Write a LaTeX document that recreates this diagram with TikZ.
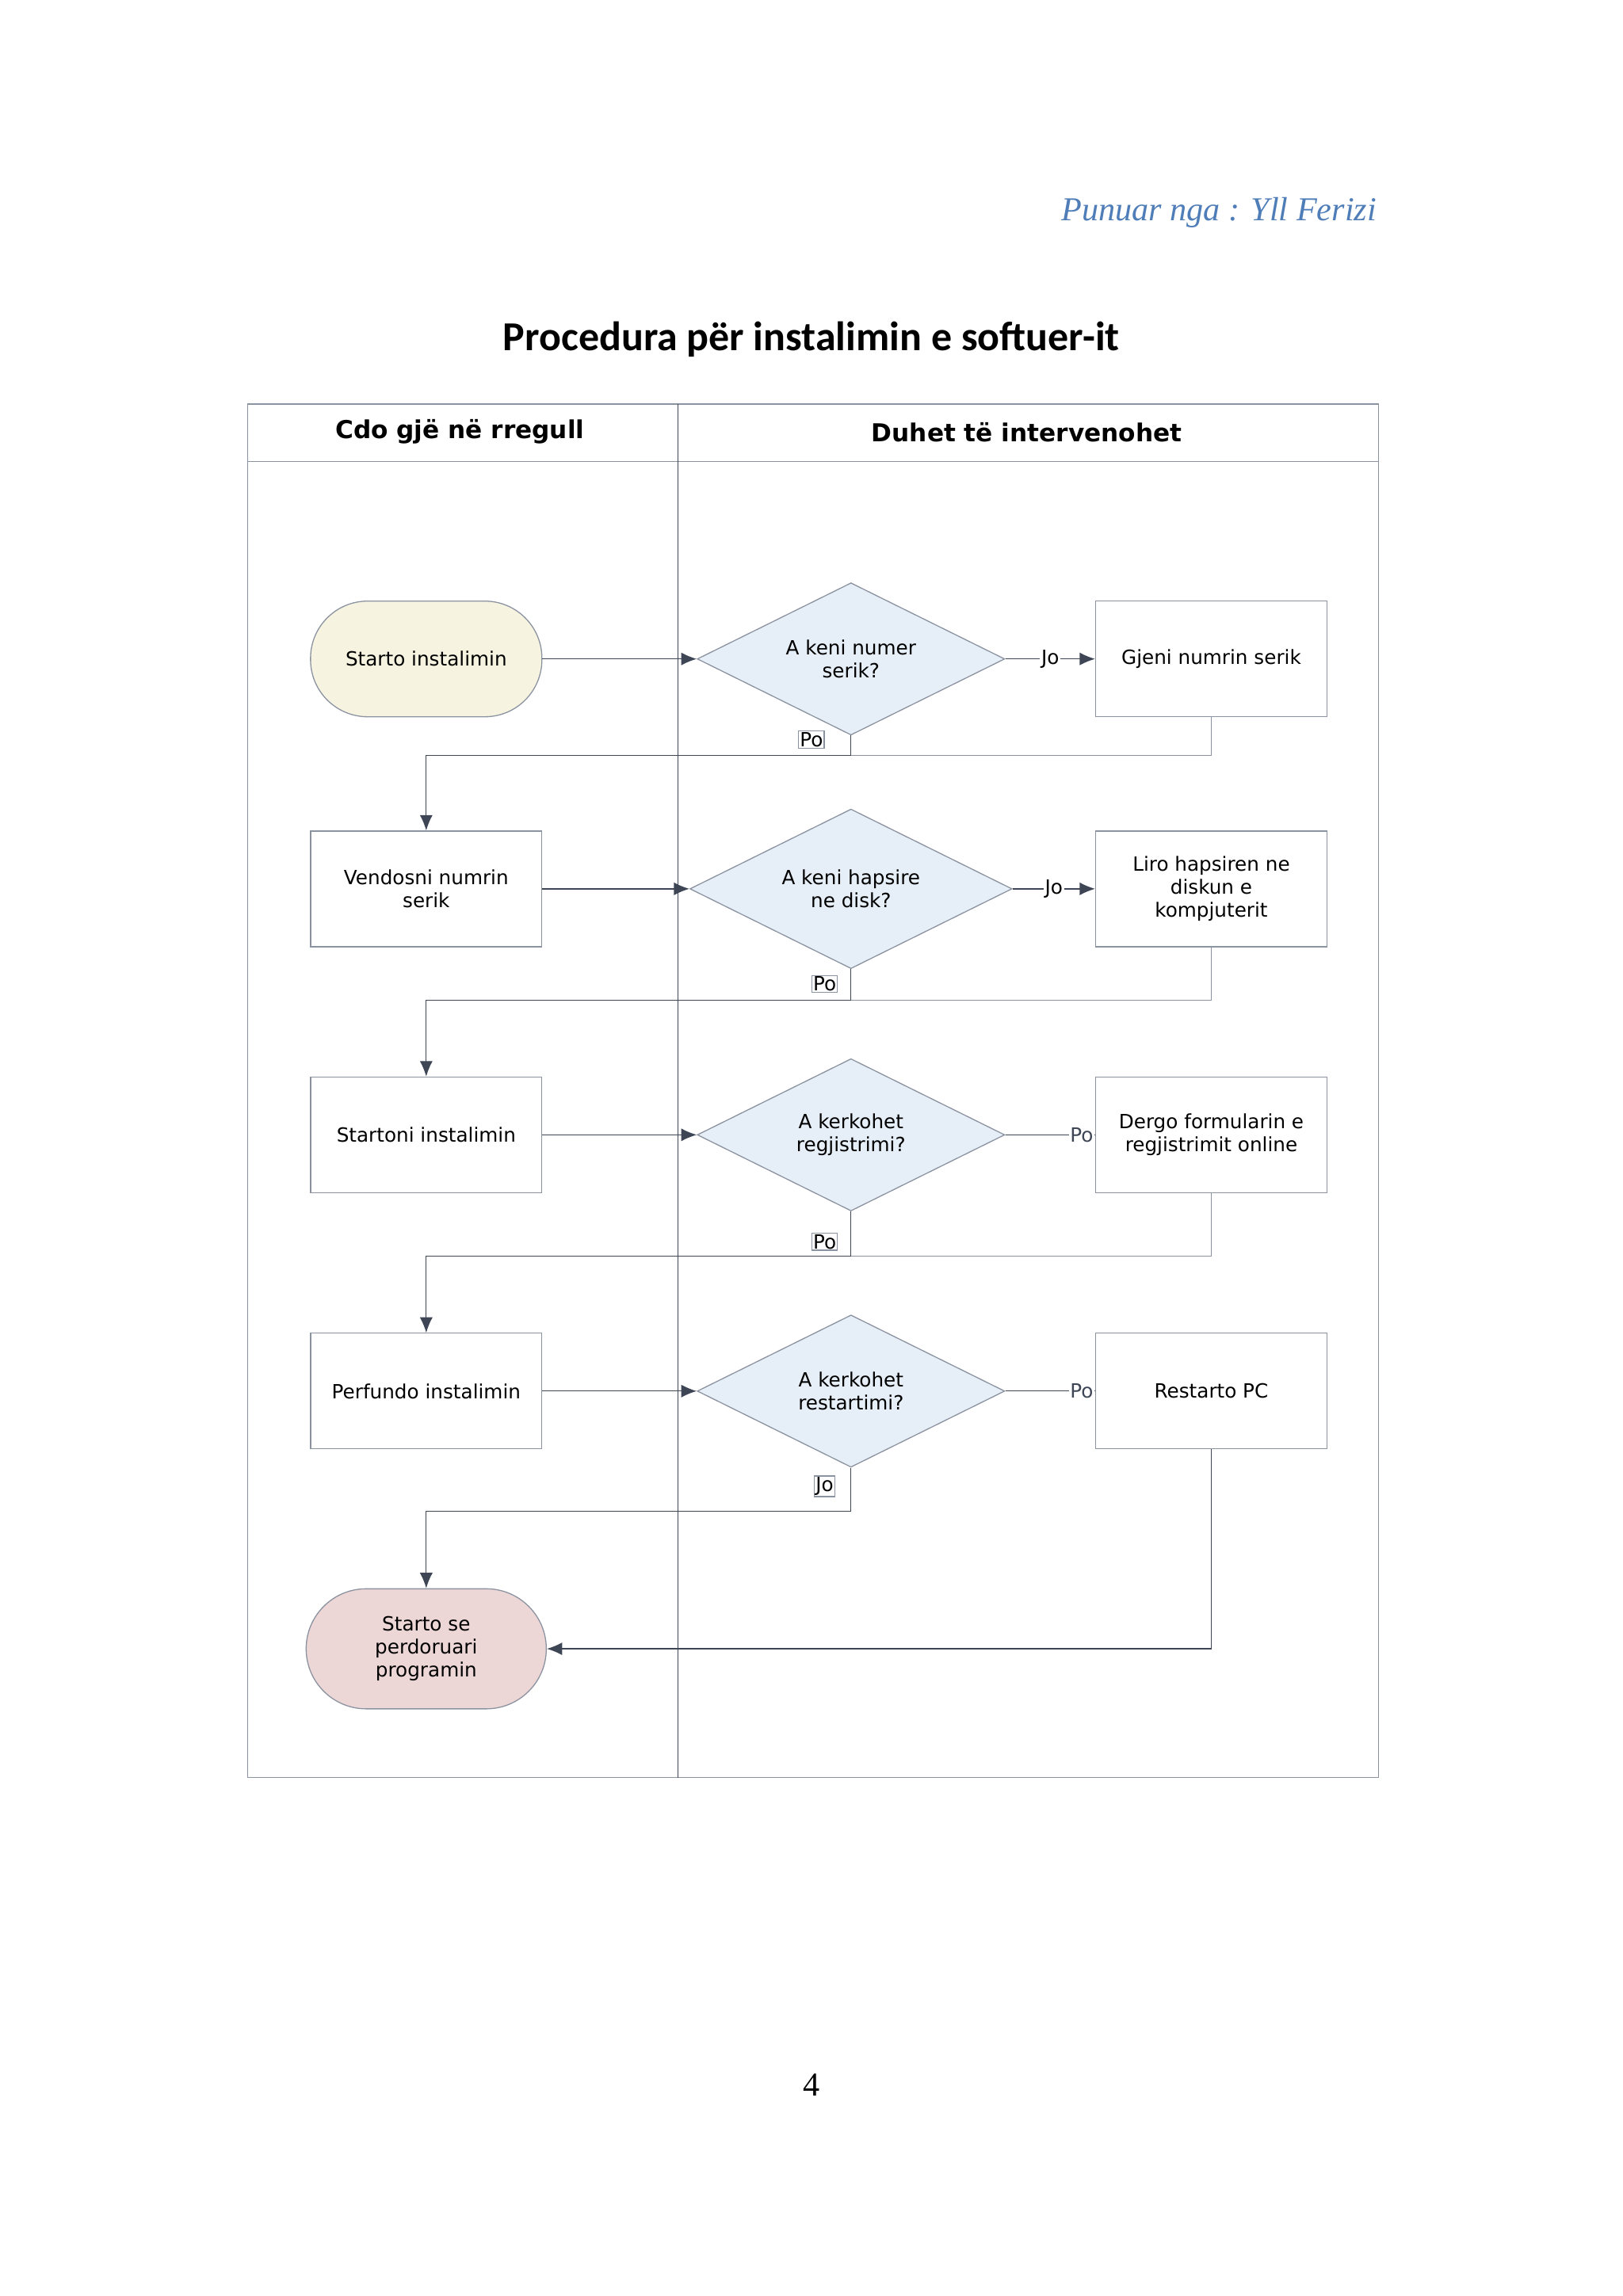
\documentclass[tikz,border=0pt]{standalone}
\usepackage{fontspec}
\setmainfont{Liberation Serif}
\newfontfamily\flowfont{DejaVu Sans}
\newfontfamily\titlefont{Carlito}
\usepackage{xcolor}
\usetikzlibrary{shapes.geometric,arrows.meta}

\definecolor{lineclr}{HTML}{3E4656}
\definecolor{paleclr}{HTML}{8C93A0}
\definecolor{startclr}{HTML}{F6F4E0}
\definecolor{endclr}{HTML}{EDD6D6}
\definecolor{decclr}{HTML}{E6EEF7}
\definecolor{authclr}{HTML}{4F7DB8}

\begin{document}
\begin{tikzpicture}[x=0.02cm,y=-0.02cm,
  task/.style={draw=paleclr, fill=white, minimum width=3.16cm, minimum height=1.58cm,
    align=center, font=\flowfont\fontsize{7.6}{9}\selectfont, inner sep=1pt},
  term/.style={task, rounded corners=0.78cm},
  choice/.style={diamond, draw=paleclr, fill=decclr, minimum width=4.2cm, minimum height=2.08cm,
    inner xsep=-0.6cm, inner ysep=-0.3cm, align=center, font=\flowfont\fontsize{7.6}{9}\selectfont},
  lbl/.style={draw=paleclr, fill=white, inner sep=0.5pt, font=\flowfont\fontsize{7.6}{8}\selectfont},
  tag/.style={fill=white, inner sep=0.5pt, font=\flowfont\fontsize{7.6}{8}\selectfont},
  flow/.style={draw=lineclr, -{Latex[length=6pt,width=5pt]}},
  back/.style={draw=paleclr}]
\useasboundingbox (0,0) rectangle (1108,1568);

% Header texts
\node[anchor=east, text=authclr, font=\itshape\fontsize{13}{15}\selectfont] (author) at (946,145) {Punuar nga : Yll Ferizi};
\node[font=\titlefont\bfseries\fontsize{16}{19}\selectfont] (title) at (554,232) {Procedura për instalimin e softuer-it};

% Swimlanes
\draw[paleclr] (169,276) rectangle (941,1214);
\draw[paleclr] (169,315) -- (941,315);
\draw[lineclr] (463,276) -- (463,1214);
\node[font=\flowfont\bfseries\fontsize{9.6}{11}\selectfont] (laneA) at (314,295) {Cdo gjë në rregull};
\node[font=\flowfont\bfseries\fontsize{9.6}{11}\selectfont] (laneB) at (701,295) {Duhet të intervenohet};

% Row 1
\node[term, fill=startclr] (start) at (291,450) {Starto instalimin};
\node[choice] (serial) at (581,450) {A keni numer\\serik?};
\node[task] (find) at (827,450) {Gjeni numrin serik};
% Row 2
\node[task] (enter) at (291,607) {Vendosni numrin\\serik};
\node[choice, minimum width=4.4cm, minimum height=2.18cm] (space) at (581,607) {A keni hapsire\\ne disk?};
\node[task] (free) at (827,607) {Liro hapsiren ne\\diskun e\\kompjuterit};
% Row 3
\node[task] (install) at (291,775) {Startoni instalimin};
\node[choice] (reg) at (581,775) {A kerkohet\\regjistrimi?};
\node[task] (form) at (827,775) {Dergo formularin e\\regjistrimit online};
% Row 4
\node[task] (finish) at (291,950) {Perfundo instalimin};
\node[choice] (restart) at (581,950) {A kerkohet\\restartimi?};
\node[task] (reboot) at (827,950) {Restarto PC};
% End
\node[term, fill=endclr, minimum width=3.28cm, minimum height=1.64cm, rounded corners=0.82cm] (use) at (291,1126) {Starto se\\perdoruari\\programin};

% Connectors
\draw[flow] (start) -- (serial);
\draw[flow] (serial) -- node[tag] {Jo} (find);
\draw[flow] (serial.south) -- (581,516) -| (enter.north);
\draw[back] (find.south) |- (581,516);
\node[lbl] (po1) at (554,505) {Po};

\draw[flow] (enter) -- (space);
\draw[flow] (space) -- node[tag] {Jo} (free);
\draw[flow] (space.south) -- (581,683) -| (install.north);
\draw[back] (free.south) |- (581,683);
\node[lbl] (po2) at (563,672) {Po};

\draw[flow] (install) -- (reg);
\draw[lineclr] (reg) -- node[tag, pos=0.85] {Po} (form);
\draw[flow] (reg.south) -- (581,858) -| (finish.north);
\draw[back] (form.south) |- (581,858);
\node[lbl] (po3) at (563,848) {Po};

\draw[flow] (finish) -- (restart);
\draw[lineclr] (restart) -- node[tag, pos=0.85] {Po} (reboot);
\draw[flow] (restart.south) -- (581,1032) -| (use.north);
\node[lbl] (jo4) at (563,1015) {Jo};
\draw[flow] (reboot.south) |- (use.east);

% Page number
\node[font=\fontsize{13}{15}\selectfont] (page) at (554,1424) {4};
\end{tikzpicture}
\end{document}
